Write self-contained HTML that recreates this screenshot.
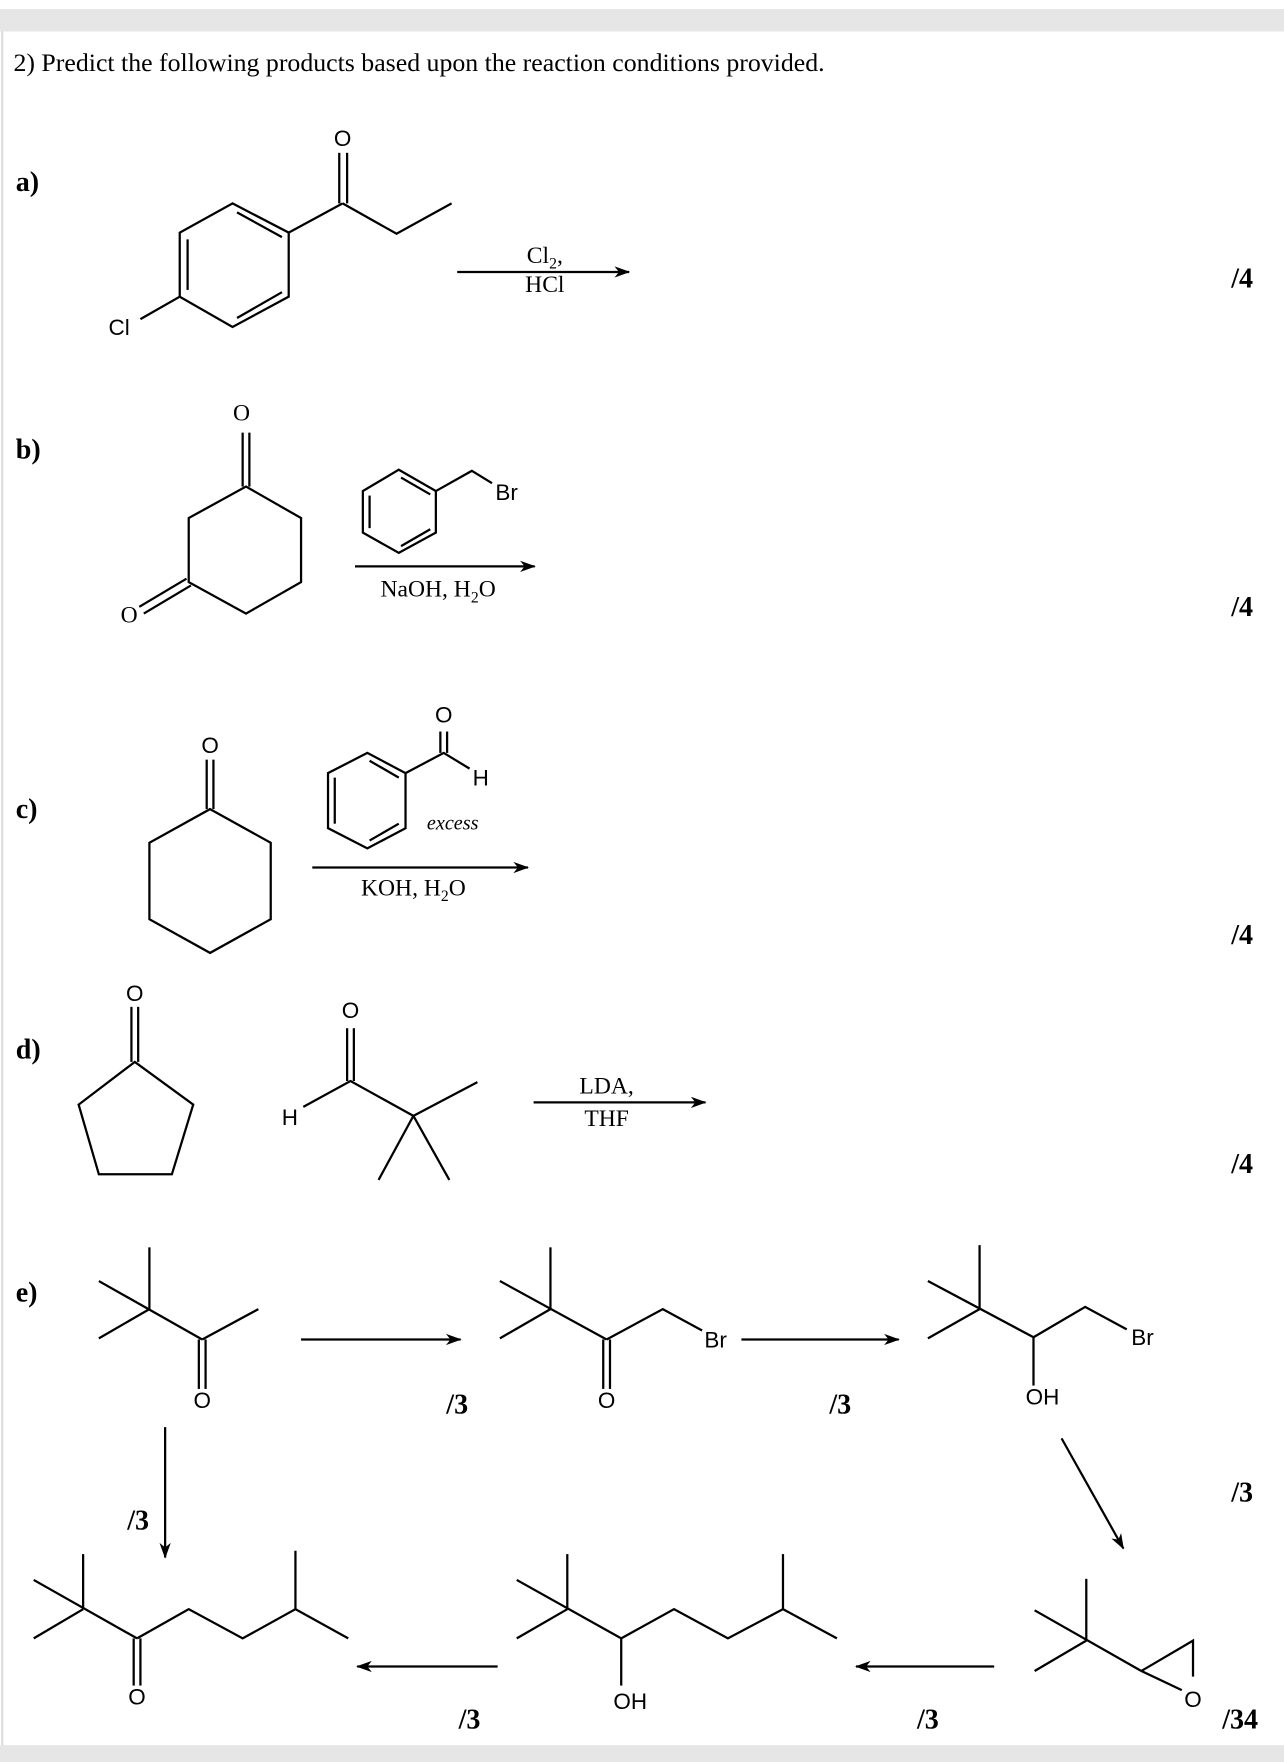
<!DOCTYPE html>
<html><head><meta charset="utf-8"><style>
html,body{margin:0;padding:0;background:#fff;}
svg{display:block;}
.s{font-family:"Liberation Serif",serif;}
.a{font-family:"Liberation Sans",sans-serif;}
</style></head><body>
<svg width="1284" height="1762" viewBox="0 0 1143 1568" preserveAspectRatio="none" xmlns="http://www.w3.org/2000/svg">
<defs><marker id="ah" markerWidth="14" markerHeight="10" refX="13" refY="5" orient="auto" markerUnits="userSpaceOnUse"><path d="M0,0 L14,5 L0,10 L4,5 Z" fill="#000"/></marker></defs>
<rect x="0" y="0" width="1143" height="1568" fill="#fff"/>
<rect x="0" y="8" width="1143" height="20" fill="#e6e6e6"/>
<rect x="0" y="1553" width="1143" height="15" fill="#e6e6e6"/>
<line x1="2" y1="28" x2="2" y2="1553" stroke="#ddd" stroke-width="2"/>
<text class="s" x="12" y="63" font-size="23">2) Predict the following products based upon the reaction conditions provided.</text>
<g class="s" font-size="25" font-weight="bold">
<text x="14" y="170">a)</text><text x="14" y="408">b)</text><text x="14" y="728">c)</text><text x="14" y="942">d)</text><text x="14" y="1158">e)</text>
<text x="1096" y="256">/4</text><text x="1096" y="548">/4</text><text x="1096" y="840">/4</text><text x="1096" y="1044">/4</text><text x="1096" y="1336">/3</text>
<text x="1088" y="1538">/34</text>
</g>
<g stroke="#000" stroke-width="2" fill="none">
<!-- a -->
<polygon points="207,181 257,207 257,264 207,291 160,264 160,207"/>
<line x1="167" y1="213" x2="167" y2="258"/><line x1="211" y1="189" x2="251" y2="211"/><line x1="251" y1="260" x2="211" y2="283"/>
<line x1="160" y1="264" x2="125" y2="284"/>
<line x1="257" y1="207" x2="305" y2="181"/><line x1="302" y1="181" x2="302" y2="136"/><line x1="309" y1="181" x2="309" y2="136"/>
<polyline points="305,181 353,208 402,181"/>
<line x1="407" y1="242" x2="560" y2="242" marker-end="url(#ah)"/>
<!-- b -->
<polygon points="219,433 268,461 268,518 219,546 168,518 168,461"/>
<line x1="216" y1="433" x2="216" y2="385"/><line x1="222" y1="433" x2="222" y2="385"/>
<line x1="166" y1="515" x2="124" y2="540"/><line x1="170" y1="521" x2="128" y2="546"/>
<polygon points="355,418 388,437 388,474 355,492 323,474 323,437"/>
<line x1="329" y1="441" x2="329" y2="470"/><line x1="357" y1="425" x2="383" y2="440"/><line x1="383" y1="471" x2="357" y2="486"/>
<polyline points="388,437 420,419 438,430"/>
<line x1="316" y1="504" x2="476" y2="504" marker-end="url(#ah)"/>
<!-- c -->
<polygon points="187,720 241,750 241,818 187,848 133,818 133,750"/>
<line x1="184" y1="720" x2="184" y2="676"/><line x1="190" y1="720" x2="190" y2="676"/>
<polygon points="327,670 361,688 361,737 327,755 292,737 292,688"/>
<line x1="298" y1="692" x2="298" y2="733"/><line x1="329" y1="677" x2="355" y2="692"/><line x1="355" y1="733" x2="329" y2="748"/>
<polyline points="361,688 395,670 418,684"/>
<line x1="392" y1="670" x2="392" y2="651"/><line x1="398" y1="670" x2="398" y2="651"/>
<line x1="278" y1="772" x2="470" y2="772" marker-end="url(#ah)"/>
<!-- d -->
<polygon points="120,945 172,983 153,1045 88,1045 70,983"/>
<line x1="117" y1="945" x2="117" y2="896"/><line x1="123" y1="945" x2="123" y2="896"/>
<polyline points="270,985 312,962 368,993"/>
<line x1="309" y1="962" x2="309" y2="915"/><line x1="315" y1="962" x2="315" y2="915"/>
<line x1="368" y1="993" x2="425" y2="963"/><line x1="368" y1="993" x2="337" y2="1050"/><line x1="368" y1="993" x2="400" y2="1050"/>
<line x1="475" y1="981" x2="628" y2="981" marker-end="url(#ah)"/>
<!-- e row 1 -->
<line x1="133" y1="1165" x2="133" y2="1110"/><line x1="88" y1="1140" x2="180" y2="1192"/><line x1="88" y1="1191" x2="133" y2="1165"/>
<line x1="180" y1="1192" x2="230" y2="1165"/>
<line x1="177" y1="1192" x2="177" y2="1236"/><line x1="183" y1="1192" x2="183" y2="1236"/>
<line x1="268" y1="1192" x2="410" y2="1192" marker-end="url(#ah)"/>
<line x1="490" y1="1165" x2="490" y2="1110"/><line x1="445" y1="1140" x2="540" y2="1192"/><line x1="445" y1="1191" x2="490" y2="1165"/>
<polyline points="540,1192 590,1165 625,1184"/>
<line x1="537" y1="1192" x2="537" y2="1236"/><line x1="543" y1="1192" x2="543" y2="1236"/>
<line x1="660" y1="1192" x2="800" y2="1192" marker-end="url(#ah)"/>
<line x1="872" y1="1165" x2="872" y2="1108"/><line x1="826" y1="1140" x2="920" y2="1190"/><line x1="826" y1="1191" x2="872" y2="1165"/>
<polyline points="920,1190 966,1163 1003,1183"/>
<line x1="920" y1="1190" x2="920" y2="1233"/>
<line x1="945" y1="1280" x2="1000" y2="1378" marker-end="url(#ah)"/>
<line x1="147" y1="1270" x2="147" y2="1386" marker-end="url(#ah)"/>
<!-- e row 2 epoxide -->
<line x1="967" y1="1460" x2="967" y2="1405"/><line x1="921" y1="1433" x2="1016" y2="1487"/><line x1="921" y1="1487" x2="967" y2="1460"/>
<polyline points="1016,1487 1062,1460 1062,1492"/><line x1="1016" y1="1487" x2="1052" y2="1504"/>
<line x1="885" y1="1483" x2="762" y2="1483" marker-end="url(#ah)"/>
<line x1="505" y1="1432" x2="505" y2="1383"/><line x1="460" y1="1406" x2="553" y2="1458"/><line x1="460" y1="1458" x2="505" y2="1432"/>
<polyline points="553,1458 600,1432 648,1458 697,1432 745,1458"/><line x1="697" y1="1432" x2="697" y2="1383"/>
<line x1="553" y1="1458" x2="553" y2="1500"/>
<line x1="443" y1="1483" x2="318" y2="1483" marker-end="url(#ah)"/>
<line x1="74" y1="1432" x2="74" y2="1383"/><line x1="30" y1="1406" x2="122" y2="1458"/><line x1="30" y1="1458" x2="74" y2="1432"/>
<polyline points="122,1458 168,1432 216,1458 263,1432 310,1458"/><line x1="263" y1="1432" x2="263" y2="1380"/>
<line x1="119" y1="1458" x2="119" y2="1500"/><line x1="125" y1="1458" x2="125" y2="1500"/>
</g>
<g class="a" font-size="20" text-anchor="middle">
<text x="305" y="130">O</text><text x="106" y="298">Cl</text>
<text x="451" y="445">Br</text>
<text x="187" y="670">O</text><text x="395" y="643">O</text><text x="428" y="699">H</text>
<text x="120" y="891">O</text><text x="312" y="906">O</text><text x="258" y="1001">H</text>
<text x="180" y="1253">O</text><text x="540" y="1253">O</text><text x="637" y="1199">Br</text>
<text x="1017" y="1197">Br</text><text x="928" y="1250">OH</text>
<text x="1062" y="1519">O</text><text x="561" y="1521">OH</text><text x="122" y="1517">O</text>
</g>
<g class="s" font-size="21" text-anchor="middle">
<text x="485" y="234">Cl<tspan font-size="14" dy="5">2</tspan><tspan dy="-5">,</tspan></text>
<text x="485" y="260">HCl</text>
<text x="215" y="374">O</text><text x="115" y="554">O</text>
<text x="390" y="531">NaOH, H<tspan font-size="14" dy="5">2</tspan><tspan dy="-5">O</tspan></text>
<text x="403" y="738" font-style="italic" font-size="18">excess</text>
<text x="368" y="797">KOH, H<tspan font-size="14" dy="5">2</tspan><tspan dy="-5">O</tspan></text>
<text x="540" y="973">LDA,</text><text x="540" y="1002">THF</text>
</g>
<g class="s" font-size="25" font-weight="bold" text-anchor="middle">
<text x="407" y="1258">/3</text><text x="748" y="1258">/3</text><text x="123" y="1361">/3</text>
<text x="418" y="1538">/3</text><text x="826" y="1538">/3</text>
</g>
</svg>
</body></html>
